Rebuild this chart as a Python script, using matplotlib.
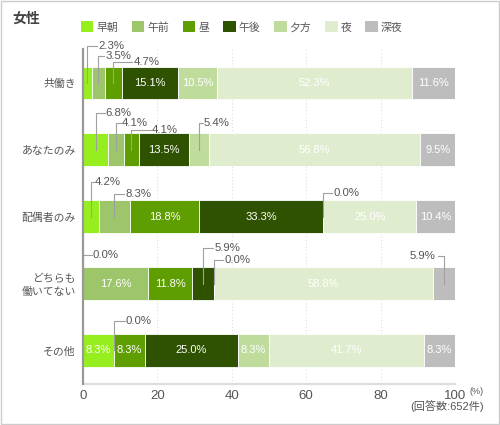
import matplotlib
matplotlib.use("Agg")
import matplotlib.pyplot as plt
from matplotlib.patches import Rectangle, Patch

plt.rcParams['font.family'] = ['Liberation Sans', 'Noto Sans CJK JP', 'DejaVu Sans']

# data
groups = ["共働き", "あなたのみ", "配偶者のみ", "どちらも\n働いてない", "その他"]
times = ["早朝", "午前", "昼", "午後", "夕方", "夜", "深夜"]
colors = ["#96ee1f", "#9dc56a", "#5e9e00", "#2e5200", "#c0dc9c", "#e0ecce", "#bdbdbd"]

kyobataraki = [2.3, 3.5, 4.7, 15.1, 10.5, 52.3, 11.6]
anata_nomi = [6.8, 4.1, 4.1, 13.5, 5.4, 56.8, 9.5]
haigusha_nomi = [4.2, 8.3, 18.8, 33.3, 0.0, 25.0, 10.4]
dochiramo = [0.0, 17.6, 11.8, 5.9, 0.0, 58.8, 5.9]
sonota = [8.3, 0.0, 8.3, 25.0, 8.3, 41.7, 8.3]
values = [kyobataraki, anata_nomi, haigusha_nomi, dochiramo, sonota]

# callouts for small segments: (row, segment, rise px, horizontal px)
callouts = [
    (0, 0, 37, 10), (0, 1, 27, 6), (0, 2, 20.5, 19),
    (1, 0, 37, 9), (1, 1, 26.5, 5), (1, 2, 20, 20), (1, 4, 26.5, 4),
    (2, 0, 35, 3), (2, 1, 22.7, 10), (2, 4, 23.4, 9),
    (3, 0, 28.6, 8.5), (3, 3, 36, 10), (3, 4, 23.6, 9), (3, 6, 27.6, -6),
    (4, 1, 29.6, 11),
]

fig = plt.figure(figsize=(5, 4.25), dpi=100)
ax = fig.add_axes([0.166, 0.0965, 0.744, 0.788])

px_x = 372 / 100.0   # pixels per percent
px_y = 67.0          # pixels per row

outside = set((r, s) for r, s, _, _ in callouts)
for i, row in enumerate(values):
    left = 0
    for j, v in enumerate(row):
        ax.barh(i, v, left=left, height=0.48, color=colors[j],
                edgecolor="white", linewidth=0.6, zorder=2)
        if (i, j) not in outside and v > 0:
            ax.text(left + v / 2, i, f"{v:.1f}%", ha="center", va="center",
                    color="white", fontsize=8, zorder=3)
        left += v

for r, s, rise, hl in callouts:
    row = values[r]
    x0 = sum(row[:s]) + row[s] / 2
    y0 = r
    y1 = r - rise / px_y
    x1 = x0 + hl / px_x
    ax.plot([x0, x0, x1], [y0, y1, y1], color="#a0a0a0", lw=0.8,
            clip_on=False, zorder=4)
    if hl >= 0:
        ax.text(x1 + 1 / px_x, y1, f"{row[s]:.1f}%", ha="left", va="center",
                color="#555555", fontsize=8.2)
    else:
        ax.text(x1 - 3 / px_x, y1, f"{row[s]:.1f}%", ha="right", va="center",
                color="#555555", fontsize=8.2)

ax.set_xlim(0, 100)
ax.set_ylim(4.5, -0.5)
ax.set_yticks(range(len(groups)))
ax.set_yticklabels(groups, fontsize=7.8, color="#555555", linespacing=1.3)
ax.set_xticks([0, 20, 40, 60, 80, 100])
ax.tick_params(axis="x", length=0, pad=4, labelsize=9.5, labelcolor="#555555")
ax.tick_params(axis="y", length=0, pad=5)
for x in [20, 40, 60, 80]:
    ax.axvline(x, color="#dddddd", lw=0.8, ls=(0, (1, 2)), zorder=0)

for s in ["top", "right"]:
    ax.spines[s].set_visible(False)
ax.spines["left"].set_color("#999999")
ax.spines["left"].set_linewidth(1.6)
ax.spines["left"].set_zorder(5)
ax.spines["bottom"].set_color("#dddddd")
ax.spines["bottom"].set_linewidth(1.6)

fig.text(0.953, 1 - 392 / 425, "(%)", fontsize=6.5, color="#555555", ha="center", va="center")
fig.text(0.968, 1 - 406 / 425, "(回答数:652件)", fontsize=8, color="#555555", ha="right", va="center")

fig.text(0.024, 1 - 19 / 425, "女性", fontsize=10, fontweight="bold", color="#444444", va="center")

handles = [Patch(facecolor=c, edgecolor="none") for c in colors]
fig.legend(handles, times, loc="center left", bbox_to_anchor=(0.162, 1 - 27 / 425),
           ncol=7, frameon=False, fontsize=7.8, handlelength=1.15, handleheight=1.15,
           handletextpad=0.25, columnspacing=1.3, borderpad=0, borderaxespad=0,
           labelcolor="#555555")

fig.patches.append(Rectangle((0.002, 0.002), 0.996, 0.995, transform=fig.transFigure,
                             fill=False, edgecolor="#cccccc", lw=1))

fig.savefig("out.png", dpi=100)
